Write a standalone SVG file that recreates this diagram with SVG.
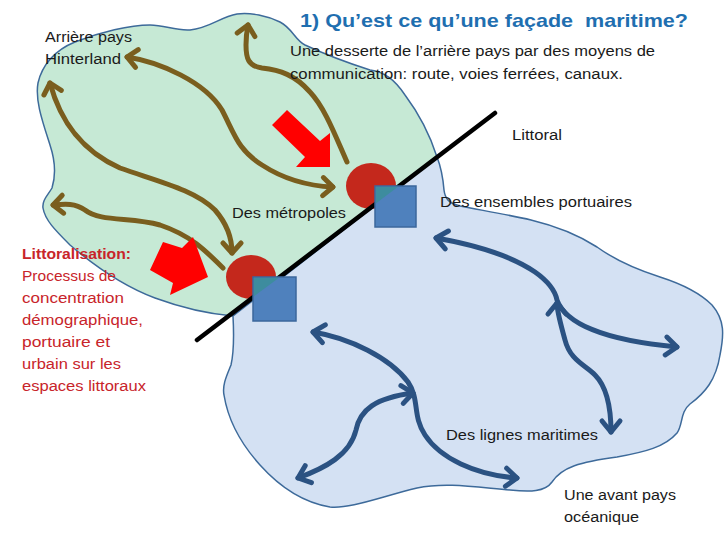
<svg xmlns="http://www.w3.org/2000/svg" width="728" height="546" viewBox="0 0 728 546">
<style>
.land{fill:#c6e9d5;stroke:#3d6a9a;stroke-width:1.5}
.sea{fill:#d4e1f3;stroke:#3d6a9a;stroke-width:1.5}
.road{fill:none;stroke:#7a5e1e;stroke-width:5;stroke-linecap:round}
.route{fill:none;stroke:#2b5282;stroke-width:5;stroke-linecap:round}
.city{fill:#c4281c}
.port{fill:#4f81bd;stroke:#3b679c;stroke-width:1.5}
.push{fill:#ff0000}
text{font-family:"Liberation Sans",Arial,sans-serif;font-size:14px;fill:#1a1a1a}
.red{fill:#c8242a}
.title{font-size:19px;font-weight:bold;fill:#1f6fb0;white-space:pre}
</style>
<defs>
<marker id="hb" markerUnits="userSpaceOnUse" markerWidth="30" markerHeight="30" viewBox="-15 -15 30 30" refX="0" refY="0" orient="auto-start-reverse">
<path d="M-10,-9 L0,0 L-10,9" fill="none" stroke="#7a5e1e" stroke-width="5" stroke-linecap="round" stroke-linejoin="round"/>
</marker>
<marker id="hv" markerUnits="userSpaceOnUse" markerWidth="30" markerHeight="30" viewBox="-15 -15 30 30" refX="0" refY="0" orient="auto-start-reverse">
<path d="M-11,-9 L0,0 L-11,9" fill="none" stroke="#2b5282" stroke-width="5" stroke-linecap="round" stroke-linejoin="round"/>
</marker>
</defs>

<g id="hinterland">
<path class="land" d="M233,316 L437,157 C430,135 420,115 405,95 C395,80 385,72 370,70 C345,62 320,52 305,45 C295,40 292,28 280,22 C268,16 250,12 237,14 C220,17 210,28 190,30 C175,31 165,25 150,25 C130,25 100,32 75,42 C55,50 42,65 38,83 C35,100 42,120 50,145 C55,160 56,175 52,188 C48,195 42,200 43,208 C45,220 55,230 70,245 C90,262 120,285 155,298 C185,309 210,314 233,316 Z"/>
</g>
<g id="foreland">
<path class="sea" d="M437,157 L233,316 C234,335 234,352 231,365 C227,375 222,385 224,395 C228,420 242,445 260,465 C278,485 300,502 330,507 C350,509 380,497 417,488 C445,482 475,487 510,490 C530,492 545,492 552,482 C562,467 580,462 617,457 C645,452 665,447 677,433 C683,425 680,412 690,404 C705,393 716,380 720,355 C724,335 725,320 712,305 C700,293 685,285 660,277 C635,269 615,260 597,247 C580,236 560,227 531,220 C510,215 480,210 460,206 C448,203 445,198 444,190 C443,178 441,167 437,157 Z"/>
</g>

<g id="connectors">
<path class="road" marker-start="url(#hb)" marker-end="url(#hb)" d="M127,57 C160,62 205,82 222,110 C235,135 238,150 262,165 C285,180 310,186 333,187"/>
<path class="road" marker-start="url(#hb)" marker-end="url(#hb)" d="M50,83 C60,120 80,150 120,168 C160,182 195,190 215,210 C228,225 232,240 232,253"/>
<path class="road" marker-end="url(#hb)" d="M223,268 C205,250 190,235 160,225 C130,217 100,222 85,210 C75,203 65,204 53,205"/>
<path class="road" marker-end="url(#hb)" d="M347,162 C335,135 325,108 310,92 C295,75 280,70 262,68 C248,66 246,58 246,45 C246,38 247,30 248,25"/>
<path class="route" marker-start="url(#hv)" marker-end="url(#hv)" d="M436,238 C470,244 510,255 535,272 C552,284 556,295 557,300 C565,322 600,340 677,347"/>
<path class="route" marker-start="url(#hv)" marker-end="url(#hv)" d="M611,432 C611,405 605,385 595,375 C585,365 570,360 565,340 C561,325 557,312 557,303"/>
<path class="route" marker-start="url(#hv)" marker-end="url(#hv)" d="M313,332 C350,338 390,358 408,382 C420,400 412,415 425,435 C440,458 475,475 517,478"/>
<path class="route" marker-start="url(#hv)" marker-end="url(#hv)" d="M298,478 C325,468 350,455 356,430 C360,410 375,398 413,393"/>
</g>

<g id="push-arrows">
<polygon class="push" points="272,125 287,110 320,141 330,133 330,167 296,167 305,157"/>
<polygon class="push" points="150,270 163,242 182,248 193,237 208,277 170,295 173,283"/>
</g>

<g id="metropole-1"><ellipse class="city" cx="371" cy="186" rx="25" ry="23"/></g>
<g id="metropole-2"><ellipse class="city" cx="251" cy="277" rx="25" ry="22"/></g>

<g id="littoral-line"><line x1="197" y1="340" x2="495" y2="113" stroke="#000" stroke-width="4.5" stroke-linecap="round"/></g>

<g id="port-1">
<rect class="port" x="375" y="186" width="41" height="41"/>
<polygon points="375.8,186.8 398,186.8 375.8,203.5" fill="#3d8c9e"/>
</g>
<g id="port-2">
<rect class="port" x="253" y="277" width="43" height="44"/>
<polygon points="253.8,277.8 279,277.8 253.8,296.5" fill="#3d8c9e"/>
</g>

<g id="labels">
<text class="title" x="300" y="27" textLength="388" lengthAdjust="spacingAndGlyphs" xml:space="preserve">1) Qu’est ce qu’une façade  maritime?</text>
<text x="290" y="56" textLength="365" lengthAdjust="spacingAndGlyphs">Une desserte de l’arrière pays par des moyens de</text>
<text x="290" y="79" textLength="333" lengthAdjust="spacingAndGlyphs">communication: route, voies ferrées, canaux.</text>
<text x="45" y="42" textLength="87" lengthAdjust="spacingAndGlyphs">Arrière pays</text>
<text x="45" y="64" textLength="76" lengthAdjust="spacingAndGlyphs">Hinterland</text>
<text x="512" y="140" textLength="50" lengthAdjust="spacingAndGlyphs">Littoral</text>
<text x="440" y="207" textLength="192" lengthAdjust="spacingAndGlyphs">Des ensembles portuaires</text>
<text x="232" y="218" textLength="114" lengthAdjust="spacingAndGlyphs">Des métropoles</text>
<text class="red" x="22" y="259" font-weight="bold" textLength="109" lengthAdjust="spacingAndGlyphs">Littoralisation:</text>
<text class="red" x="22" y="281" textLength="94" lengthAdjust="spacingAndGlyphs">Processus de</text>
<text class="red" x="22" y="303" textLength="102" lengthAdjust="spacingAndGlyphs">concentration</text>
<text class="red" x="22" y="325" textLength="121" lengthAdjust="spacingAndGlyphs">démographique,</text>
<text class="red" x="22" y="347" textLength="88" lengthAdjust="spacingAndGlyphs">portuaire et</text>
<text class="red" x="22" y="369" textLength="99" lengthAdjust="spacingAndGlyphs">urbain sur les</text>
<text class="red" x="22" y="391" textLength="124" lengthAdjust="spacingAndGlyphs">espaces littoraux</text>
<text x="446" y="440" textLength="152" lengthAdjust="spacingAndGlyphs">Des lignes maritimes</text>
<text x="564" y="500" textLength="112" lengthAdjust="spacingAndGlyphs">Une avant pays</text>
<text x="564" y="522" textLength="75" lengthAdjust="spacingAndGlyphs">océanique</text>
</g>
</svg>
